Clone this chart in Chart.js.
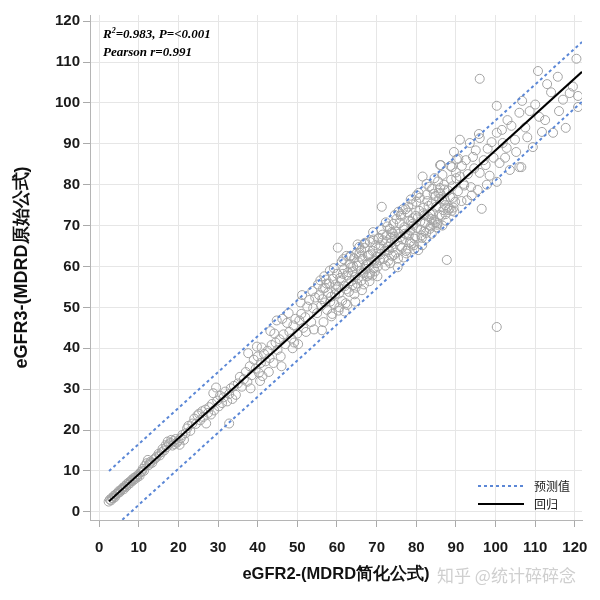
<!DOCTYPE html>
<html>
<head>
<meta charset="utf-8">
<style>
  html, body { margin: 0; padding: 0; background: #fff; }
  #wrap { width: 600px; height: 600px; }
</style>
<script src="https://cdn.jsdelivr.net/npm/chart.js@4/dist/chart.umd.min.js"></script>
</head>
<body>
<div id="wrap"><canvas id="scatterChart"></canvas></div>
<script>
// eGFR2 (x) and eGFR3 (y) values
const eGFR2 = [
  2.4, 2.7, 3.0, 3.2, 3.5, 3.7, 4.0, 4.2, 4.5, 4.8,
  5.0, 5.2, 5.5, 5.8, 6.0, 6.2, 6.5, 6.8, 7.0, 7.3,
  7.5, 7.8, 8.0, 8.3, 8.5, 8.8, 9.0, 9.3, 9.6, 10.0,
  10.2, 10.5, 10.8, 11.0, 11.3, 11.6, 12.0, 12.3, 12.5, 12.8,
  13.0, 13.4, 13.8, 14.2,
  14.5, 15.0, 15.3, 15.8, 16.0, 16.4, 16.8, 17.0, 17.3, 17.6,
  18.0, 18.2, 18.5, 18.8, 19.0, 19.3, 19.6, 20.0, 20.3, 20.6,
  21.0, 21.4, 21.8, 22.2,
  22.5, 23.0, 23.5, 24.0, 24.4, 24.8, 25.2, 25.5, 26.0, 26.3,
  26.8, 27.0, 27.5, 27.8, 28.2, 28.5, 28.8, 29.0, 29.5, 29.8,
  30.2, 30.5, 31.0, 31.4, 31.8, 32.3, 32.8, 32.8, 33.2, 33.6,
  34.0, 34.5, 35.0,
  35.5, 36.0, 36.5, 37.0, 37.4, 38.0, 38.5, 39.0, 39.5, 40.0,
  40.3, 40.8, 41.2, 41.6, 42.0, 42.5, 43.0, 43.5, 44.0, 44.5,
  45.0, 45.5, 46.0, 46.5, 47.0, 47.4, 48.0, 48.5, 49.0, 49.5,
  50.0, 50.5, 51.0, 51.5, 52.0, 52.5, 53.0, 53.5, 54.0,
  38.2, 39.8, 41.0, 42.8, 44.2, 45.8, 47.8, 49.2, 50.8, 52.2,
  53.8, 40.6, 43.2, 46.2, 48.8, 51.2, 54.2, 37.6, 44.8, 50.2,
  54.5, 55.0, 55.5, 56.0, 56.5, 57.0, 57.5, 58.0, 58.5, 59.0,
  59.3, 59.8, 60.0, 60.5, 61.0, 61.3, 61.8, 62.0, 62.5, 63.0,
  63.2, 63.6, 64.0, 64.3, 64.7, 65.0, 65.3, 65.7, 66.0, 66.4,
  66.8, 67.0, 67.4, 67.8, 68.0, 68.3, 68.7, 69.0, 69.3, 69.7,
  70.0, 70.3, 70.6, 71.0,
  55.2, 56.3, 57.2, 58.3, 59.5, 60.3, 61.5, 62.3, 63.5, 64.5,
  65.5, 66.2, 67.2, 68.5, 69.5, 70.5, 57.8, 60.8, 62.8, 64.9,
  66.6, 68.1, 69.9, 61.6, 63.9, 65.9, 67.6, 69.2, 70.8, 58.8,
  60.2, 62.6, 64.1, 66.9, 68.9, 56.8, 59.6, 63.3, 65.1, 67.9,
  55.8, 56.6, 57.4, 58.6, 59.2, 60.6, 61.2, 62.2, 63.4, 64.4,
  65.2, 66.3, 67.1, 68.2, 69.1, 70.2, 71.2, 56.2, 58.2, 60.4,
  62.4, 64.6, 66.1, 68.4, 70.4, 57.0, 61.9, 65.6, 69.6, 71.5,
  71.3, 71.6, 72.0, 72.2, 72.5, 72.8, 73.0, 73.3, 73.6, 73.9,
  74.2, 74.5, 74.8, 75.0, 75.3, 75.6, 75.9, 76.2, 76.5, 76.8,
  77.0, 77.3, 77.6, 77.9, 78.2, 78.5, 78.8, 79.0, 79.3, 79.6,
  79.9, 80.2, 80.5, 80.8, 81.0, 81.3, 81.6, 81.9, 82.2, 82.5,
  82.8, 83.0, 83.3, 83.6, 83.9, 84.2, 84.5, 84.8, 85.0, 85.3,
  85.6, 85.9, 86.2, 86.5, 86.8, 87.0, 87.3, 87.7, 88.0, 88.4,
  88.8, 89.2, 89.6, 90.0,
  71.0, 71.8, 72.4, 73.1, 73.8, 74.4, 75.1, 75.8, 76.4, 77.1,
  77.8, 78.4, 79.1, 79.8, 80.4, 81.1, 81.8, 82.4, 83.1, 83.8,
  84.4, 85.1, 85.8, 86.4, 87.1, 87.8, 88.5, 89.1, 89.8, 72.7,
  74.0, 75.5, 76.9, 78.0, 79.5, 80.9, 82.0, 83.5, 84.9, 86.0,
  87.5, 88.9, 73.5, 76.0, 78.7, 80.0, 81.5, 83.9, 85.5, 87.2,
  74.7, 77.5, 79.0, 82.7, 84.0, 86.6,
  72.3, 73.4, 74.6, 75.4, 76.6, 77.4, 78.6, 79.4, 80.6, 81.4,
  82.6, 83.4, 84.6, 85.4, 86.6, 87.4, 88.6, 89.4, 90.6, 91.4,
  74.1, 76.1, 78.1, 80.1, 82.1, 84.1, 86.1, 88.1, 90.1, 92.1,
  96.0, 110.7, 115.7, 113.0, 114.0, 118.7, 120.8, 120.8, 111.0, 117.7,
  114.5, 111.7, 109.4, 106.0, 100.3, 106.7, 108.6, 106.0, 103.0, 101.6,
  104.9, 102.8, 100.3, 91.0, 96.0, 93.5, 94.3, 89.0, 86.0, 101.0,
  103.6, 100.3, 96.0, 95.5, 91.0, 96.5, 106.5, 100.3, 120.4,
  90.5, 91.5, 92.0, 92.5, 93.0, 93.8, 94.6, 95.0, 97.0, 97.5,
  98.0, 98.5, 99.0, 99.5, 92.8, 94.0, 97.8, 101.8, 102.4, 104.0,
  105.2, 107.5, 108.0, 110.0, 112.5, 116.0, 117.0, 119.5, 89.5, 90.2,
  95.8
];
const eGFR3 = [
  2.5, 3.0, 2.8, 3.4, 3.3, 3.9, 3.6, 4.3, 4.4, 4.6,
  5.1, 4.8, 5.3, 5.6, 5.9, 5.5, 6.3, 6.1, 6.8, 6.6,
  7.2, 7.0, 7.5, 7.9, 7.6, 8.3, 8.0, 8.6, 8.4, 9.2,
  8.8, 9.7, 9.9, 10.5, 10.0, 11.3, 11.9, 12.7, 11.4, 11.8,
  12.3, 12.0, 12.8, 13.1,
  13.5, 14.2, 13.8, 14.6, 15.4, 15.0, 16.3, 15.8, 17.2, 16.5,
  16.9, 17.6, 16.2, 17.3, 16.6, 17.8, 16.9, 17.4, 16.4, 18.0,
  18.8, 17.6, 19.2, 20.4,
  21.0, 19.8, 21.6, 22.8, 21.5, 23.6, 24.0, 22.4, 24.6, 23.2,
  25.0, 21.6, 24.2, 25.6, 23.8, 26.4, 29.0, 24.8, 30.4, 27.2,
  25.8, 28.4, 26.6, 28.0, 29.4, 27.0, 28.8, 21.6, 30.2, 27.6,
  30.8, 28.6, 31.4,
  33.0, 30.6, 32.4, 34.2, 31.8, 35.6, 33.4, 37.2, 35.0, 38.0,
  34.0, 36.4, 33.2, 38.6, 36.8, 39.4, 37.6, 40.8, 36.4, 41.4,
  39.6, 42.2, 35.6, 43.4, 41.0, 46.2, 44.0, 42.4, 45.6, 47.2,
  43.6, 46.8, 48.4, 45.0, 47.6, 50.2, 51.8, 46.4, 49.8,
  30.2, 40.4, 40.2, 34.2, 43.6, 38.0, 48.6, 41.4, 51.2, 44.0,
  54.0, 32.0, 44.2, 47.2, 40.0, 53.0, 44.6, 38.8, 46.8, 41.0,
  52.4, 48.6, 53.0, 50.4, 54.6, 51.2, 49.4, 55.8, 52.6, 57.0,
  50.8, 54.4, 58.2, 53.4, 56.6, 51.6, 59.4, 55.2, 57.8, 53.8,
  60.6, 56.4, 58.8, 62.0, 54.8, 60.2, 57.2, 63.4, 59.0, 61.8,
  55.6, 64.6, 60.4, 62.6, 58.0, 66.0, 61.2, 63.8, 59.6, 65.2,
  62.4, 60.0, 67.0, 63.0,
  55.6, 52.0, 56.8, 51.4, 53.2, 55.0, 58.2, 54.4, 59.8, 57.4,
  61.0, 56.6, 59.4, 63.0, 61.4, 64.4, 53.6, 57.2, 58.6, 63.2,
  58.4, 62.8, 60.8, 61.8, 55.4, 62.4, 57.6, 66.6, 61.6, 48.4,
  64.6, 50.6, 60.0, 65.6, 57.8, 57.6, 55.6, 62.6, 55.8, 60.8,
  56.6, 46.4, 55.8, 47.8, 59.6, 50.0, 61.2, 51.0, 62.4, 53.2,
  65.4, 54.2, 65.8, 56.4, 68.4, 57.6, 69.0, 44.4, 59.0, 49.2,
  62.6, 51.4, 64.0, 58.2, 66.8, 54.8, 49.0, 64.8, 58.8, 67.8,
  74.6, 66.4, 63.8, 60.2, 67.6, 64.8, 61.4, 69.2, 65.8, 62.6,
  70.4, 67.2, 63.4, 71.6, 59.8, 68.0, 65.0, 72.8, 66.6, 62.2,
  69.6, 74.0, 67.8, 64.4, 71.2, 68.8, 65.6, 75.2, 70.0, 66.8,
  72.4, 69.4, 64.0, 73.6, 71.0, 67.6, 82.0, 74.4, 70.6, 68.2,
  76.0, 72.2, 79.5, 69.8, 75.4, 73.0, 71.4, 77.2, 74.6, 70.2,
  78.0, 72.6, 84.8, 76.4, 73.8, 80.0, 75.0, 61.6, 78.6, 74.2,
  81.2, 76.8, 73.4, 83.0,
  65.2, 61.8, 66.0, 64.0, 68.4, 62.8, 66.2, 70.6, 64.6, 68.0,
  73.2, 66.0, 71.8, 67.4, 72.0, 69.0, 73.0, 66.8, 74.8, 71.6,
  77.8, 69.6, 76.6, 72.4, 78.8, 74.4, 77.0, 79.6, 75.8, 69.8,
  64.6, 73.4, 69.0, 74.6, 64.2, 76.8, 68.6, 72.8, 70.8, 79.2,
  71.2, 73.6, 67.0, 67.2, 71.0, 75.8, 65.2, 68.0, 80.8, 76.2,
  68.6, 63.2, 70.4, 77.6, 79.0, 70.0,
  70.8, 60.8, 72.6, 62.0, 74.0, 63.8, 76.4, 65.2, 78.0, 67.0,
  80.2, 69.2, 81.6, 70.6, 82.4, 72.8, 84.6, 74.4, 86.4, 76.0,
  68.0, 72.4, 67.6, 77.4, 72.6, 70.4, 77.8, 73.8, 81.6, 79.8,
  105.9, 107.8, 106.4, 104.6, 102.6, 102.4, 101.7, 99.0, 96.6, 93.9,
  92.7, 92.9, 89.2, 84.3, 99.3, 100.5, 98.0, 97.6, 95.8, 93.4,
  91.0, 89.0, 92.7, 91.0, 91.4, 90.2, 86.8, 84.3, 84.8, 85.3,
  83.6, 80.7, 82.9, 78.7, 82.0, 74.1, 84.3, 45.2, 110.8,
  78.4, 84.6, 80.2, 86.0, 82.6, 79.4, 84.0, 88.4, 86.0, 84.8,
  88.8, 82.2, 90.4, 86.6, 76.2, 77.4, 80.0, 90.2, 86.6, 94.4,
  88.0, 94.0, 91.6, 99.6, 95.8, 98.0, 100.8, 104.0, 88.0, 86.2,
  92.4
];

// fitted line and prediction band end points
const fitX = [2.5, 121.8];
const fitY = [2.6, 107.6];
const upperY = [10.0, 114.9];
const lowerY = [-4.9, 100.3];

const xTicks = [0, 10, 20, 30, 40, 50, 60, 70, 80, 90, 100, 110, 120];
const yTicks = [0, 10, 20, 30, 40, 50, 60, 70, 80, 90, 100, 110, 120];

const sans = "'Liberation Sans', Arial, sans-serif";
const cjk = "'Noto Sans CJK SC', sans-serif";

const toPts = (xs, ys) => xs.map((x, i) => ({ x: x, y: ys[i] }));

const overlayText = {
  id: "overlayText",
  afterDraw(chart) {
    const ctx = chart.ctx;
    ctx.save();
    // stats in the top left corner
    ctx.fillStyle = "#000";
    ctx.font = "italic bold 13px 'Liberation Serif', 'Times New Roman', serif";
    ctx.textBaseline = "middle";
    ctx.textAlign = "left";
    ctx.fillText("R", 103, 35);
    let w = ctx.measureText("R").width;
    ctx.font = "italic bold 8px 'Liberation Serif', serif";
    ctx.fillText("2", 103 + w, 31);
    let w2 = ctx.measureText("2").width;
    ctx.font = "italic bold 13px 'Liberation Serif', 'Times New Roman', serif";
    ctx.fillText("=0.983, P=<0.001", 103 + w + w2, 35);
    ctx.fillText("Pearson r=0.991", 103, 53);

    // legend, bottom right
    ctx.lineWidth = 2;
    ctx.strokeStyle = "#5b87d6";
    ctx.setLineDash([3, 3]);
    ctx.beginPath();
    ctx.moveTo(478, 486);
    ctx.lineTo(524, 486);
    ctx.stroke();
    ctx.setLineDash([]);
    ctx.strokeStyle = "#000";
    ctx.beginPath();
    ctx.moveTo(478, 504);
    ctx.lineTo(524, 504);
    ctx.stroke();
    ctx.font = "12px " + cjk;
    ctx.fillStyle = "#222";
    ctx.fillText("预测值", 534, 486);
    ctx.fillText("回归", 534, 504);

    // watermark
    ctx.font = "17px " + cjk;
    ctx.fillStyle = "#cfcfcf";
    ctx.fillText("知乎 @统计碎碎念", 437, 576);
    ctx.restore();
  }
};

new Chart(document.getElementById("scatterChart"), {
  type: "scatter",
  data: {
    datasets: [
      {
        label: "回归",
        data: toPts(fitX, fitY),
        showLine: true,
        borderColor: "#000",
        borderWidth: 2,
        pointRadius: 0,
        order: 0
      },
      {
        label: "预测值",
        data: toPts(fitX, upperY),
        showLine: true,
        borderColor: "#5b87d6",
        borderDash: [3, 3],
        borderWidth: 2,
        pointRadius: 0,
        order: 1
      },
      {
        label: "预测值下限",
        data: toPts(fitX, lowerY),
        showLine: true,
        borderColor: "#5b87d6",
        borderDash: [3, 3],
        borderWidth: 2,
        pointRadius: 0,
        order: 1
      },
      {
        label: "eGFR",
        data: toPts(eGFR2, eGFR3),
        pointRadius: 4.5,
        pointHoverRadius: 4.5,
        pointBorderWidth: 1,
        pointBorderColor: "#a3a3a3",
        pointBackgroundColor: "rgba(255,255,255,0)",
        order: 2
      }
    ]
  },
  options: {
    responsive: true,
    maintainAspectRatio: false,
    animation: false,
    layout: { padding: { top: 15, right: 18, left: 0, bottom: 0 } },
    plugins: {
      legend: { display: false },
      tooltip: { enabled: false }
    },
    scales: {
      x: {
        type: "linear",
        min: -2.3,
        max: 121.8,
        afterBuildTicks: (s) => { s.ticks = xTicks.map((v) => ({ value: v })); },
        afterFit: (s) => { s.height = 80; },
        ticks: {
          font: { family: sans, size: 15, weight: "bold" },
          color: "#1a1a1a",
          padding: 12,
          maxRotation: 0
        },
        grid: { color: "#e6e6e6", tickColor: "#aaa", tickLength: 7 },
        border: { color: "#b5b5b5" },
        title: {
          display: true,
          text: "eGFR2-(MDRD简化公式)",
          font: { family: sans, size: 16.5, weight: "bold" },
          color: "#111",
          padding: { top: 0, bottom: 16 }
        }
      },
      y: {
        type: "linear",
        min: -2,
        max: 121.5,
        afterBuildTicks: (s) => { s.ticks = yTicks.map((v) => ({ value: v })); },
        afterFit: (s) => { s.width = 90; },
        ticks: {
          font: { family: sans, size: 15, weight: "bold" },
          color: "#1a1a1a",
          padding: 3
        },
        grid: { color: "#e6e6e6", tickColor: "#aaa", tickLength: 7 },
        border: { color: "#b5b5b5" },
        title: {
          display: true,
          text: "eGFR3-(MDRD原始公式)",
          font: { family: sans, size: 18, weight: "bold" },
          color: "#111",
          padding: { top: 11, bottom: 0 }
        }
      }
    }
  },
  plugins: [overlayText]
});
</script>
</body>
</html>
